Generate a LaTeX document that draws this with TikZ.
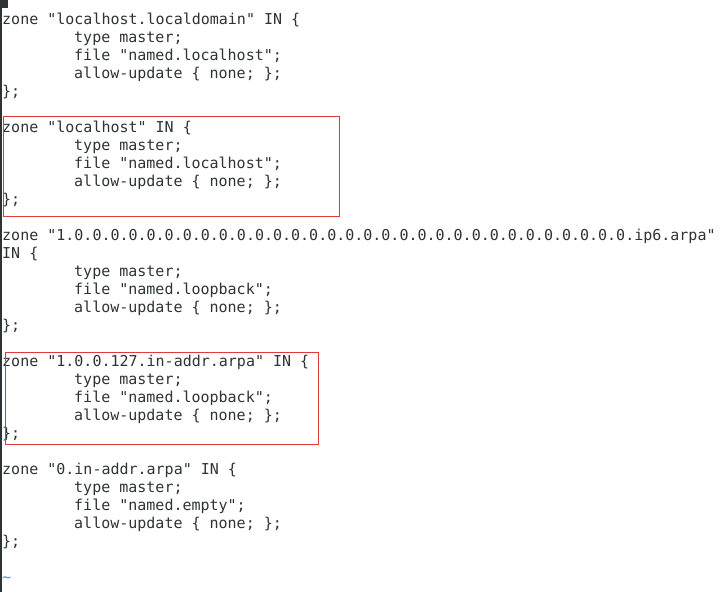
\documentclass[tikz,border=0pt]{standalone}
\usepackage{fontspec}
\setmonofont{DejaVu Sans Mono}
\definecolor{termtext}{HTML}{2E3436}
\definecolor{markred}{HTML}{E03A3A}
\definecolor{tildeblue}{HTML}{5B8BD6}
\newcommand\codeln[3]{\node[codeline] (l#1) at (#2,{24+18*#1}) {#3};}
\begin{document}
\begin{tikzpicture}[x=1pt, y=-1pt,
    codeline/.style={anchor=base west, inner sep=0pt, font=\fontsize{15}{18}\ttfamily, text=termtext},
    markbox/.style={draw=markred, line width=0.8pt}
]
   \useasboundingbox (0,0) rectangle (719,592);
   \fill[white] (0,0) rectangle (719,592);
   % terminal edge and cursor
   \fill[termtext] (0,0) rectangle (1.5,592);
   \fill[termtext] (2,0) rectangle (8,8);

   % zone localhost.localdomain
   \codeln{0}{2}{zone "localhost.localdomain" IN \{}
   \codeln{1}{74}{type master;}
   \codeln{2}{74}{file "named.localhost";}
   \codeln{3}{74}{allow-update \{ none; \};}
   \codeln{4}{2}{\};}
   % zone localhost
   \codeln{6}{2}{zone "localhost" IN \{}
   \codeln{7}{74}{type master;}
   \codeln{8}{74}{file "named.localhost";}
   \codeln{9}{74}{allow-update \{ none; \};}
   \codeln{10}{2}{\};}
   % zone ip6
   \codeln{12}{2}{zone "1.0.0.0.0.0.0.0.0.0.0.0.0.0.0.0.0.0.0.0.0.0.0.0.0.0.0.0.0.0.0.0.ip6.arpa"}
   \codeln{13}{2}{IN \{}
   \codeln{14}{74}{type master;}
   \codeln{15}{74}{file "named.loopback";}
   \codeln{16}{74}{allow-update \{ none; \};}
   \codeln{17}{2}{\};}
   % zone 127
   \codeln{19}{2}{zone "1.0.0.127.in-addr.arpa" IN \{}
   \codeln{20}{74}{type master;}
   \codeln{21}{74}{file "named.loopback";}
   \codeln{22}{74}{allow-update \{ none; \};}
   \codeln{23}{2}{\};}
   % zone 0
   \codeln{25}{2}{zone "0.in-addr.arpa" IN \{}
   \codeln{26}{74}{type master;}
   \codeln{27}{74}{file "named.empty";}
   \codeln{28}{74}{allow-update \{ none; \};}
   \codeln{29}{2}{\};}
   \node[codeline, text=tildeblue] (tilde) at (2,582) {\char"007E};

   % highlight boxes
   \draw[markbox] (3,116) rectangle (339,216);
   \draw[markbox] (5,352) rectangle (318,444);
\end{tikzpicture}
\end{document}
